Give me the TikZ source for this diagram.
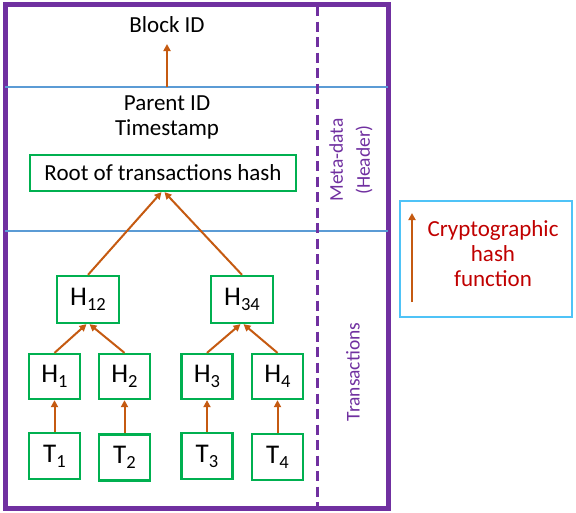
\documentclass[tikz,border=0pt]{standalone}
\usepackage{fontspec}
\setmainfont{Carlito}
\usetikzlibrary{arrows.meta}
\definecolor{pur}{HTML}{7030A0}
\definecolor{grn}{HTML}{00B050}
\definecolor{org}{HTML}{C55A11}
\definecolor{bln}{HTML}{5B9BD5}
\definecolor{cyn}{HTML}{4FC3F7}
\definecolor{drd}{HTML}{C00000}
\newcommand{\hsub}[2]{#1\raisebox{-5pt}{\fontsize{18.5}{20}\selectfont #2}}
\begin{document}
\begin{tikzpicture}[x=1pt,y=-1pt,
  txt/.style={font=\fontsize{23}{25}\selectfont, inner sep=0pt},
  hbox/.style={draw=grn, line width=2.3pt, inner sep=0pt, font=\fontsize{27}{30}\selectfont, minimum width=51pt, minimum height=45pt},
  hashar/.style={draw=org, line width=2pt, -{Triangle[length=7pt,width=7pt]}},
  sidetxt/.style={text=pur, rotate=90, align=center, font=\fontsize{19.5}{27}\selectfont, inner sep=0pt}]
\useasboundingbox (0,0) rectangle (576,512);
% outer frame
\draw[pur, line width=5pt] (5,4) rectangle (388,508);
% separators
\draw[bln, line width=2pt] (5,87) -- (388,87);
\draw[bln, line width=2pt] (5,231) -- (388,231);
\draw[pur, line width=3pt, dash pattern=on 10pt off 5.5pt] (317,6) -- (317,506);
% header text
\node[txt] (blockid) at (167,25) {Block ID};
\coordinate (bidbase) at (167,87);
\coordinate (bidtip) at (167,44);
\draw[hashar] (bidbase) -- (bidtip);
\node[txt, align=center] (parent) at (167,117) {Parent ID\\Timestamp};
\node[draw=grn, line width=2.3pt, minimum width=266pt, minimum height=36pt, inner sep=0pt, font=\fontsize{23}{25}\selectfont] (root) at (163,173) {Root of transactions hash};
% tree
\node[hbox, minimum width=62pt, minimum height=47pt] (h12) at (88,299.5) {\hsub{H}{12}};
\node[hbox, minimum width=62pt, minimum height=47pt] (h34) at (242,299.5) {\hsub{H}{34}};
\node[hbox] (h1) at (54.5,376.5) {\hsub{H}{1}};
\node[hbox] (h2) at (124.5,376.5) {\hsub{H}{2}};
\node[hbox] (h3) at (207,376.5) {\hsub{H}{3}};
\node[hbox] (h4) at (277.5,376.5) {\hsub{H}{4}};
\node[hbox, minimum height=46pt] (t1) at (54.5,456) {\hsub{T}{1}};
\node[hbox, minimum height=46pt] (t2) at (124.5,457.5) {\hsub{T}{2}};
\node[hbox, minimum height=46pt] (t3) at (207,456) {\hsub{T}{3}};
\node[hbox, minimum height=46pt] (t4) at (277.5,457) {\hsub{T}{4}};
\draw[hashar] (t1.north) -- (h1.south);
\draw[hashar] (t2.north) -- (h2.south);
\draw[hashar] (t3.north) -- (h3.south);
\draw[hashar] (t4.north) -- (h4.south);
\draw[hashar] (h1.north) -- ([xshift=-1.5pt]h12.south);
\draw[hashar] (h2.north) -- ([xshift=1.5pt]h12.south);
\draw[hashar] (h3.north) -- ([xshift=-1.5pt]h34.south);
\draw[hashar] (h4.north) -- ([xshift=1.5pt]h34.south);
\draw[hashar] (h12.north) -- ([xshift=-1.5pt]root.south);
\draw[hashar] (h34.north) -- ([xshift=1.5pt]root.south);
% side labels
\node[sidetxt] (meta) at (351,160) {Meta-data\\(Header)};
\node[sidetxt] (trans) at (353,372) {Transactions};
% legend
\node[draw=cyn, line width=1.5pt, minimum width=172pt, minimum height=116pt, inner sep=0pt] (legend) at (486,259) {};
\coordinate (la) at (412,302);
\coordinate (lb) at (412,213);
\draw[hashar] (la) -- (lb);
\node[txt, text=drd, align=center] (legtxt) at (493,254) {Cryptographic\\hash\\function};
\end{tikzpicture}
\end{document}
